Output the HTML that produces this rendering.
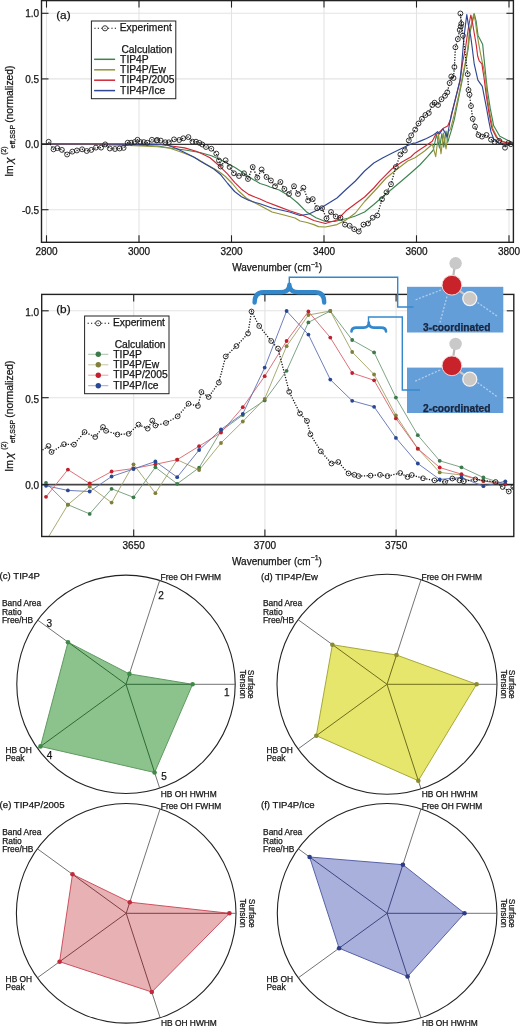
<!DOCTYPE html><html><head><meta charset="utf-8"><title>Figure</title><style>html,body{margin:0;padding:0;background:#fff;}body{width:520px;height:1026px;overflow:hidden;}svg{display:block;}text{stroke:#1a1a1a;stroke-width:0.25px;}</style></head><body><svg width="520" height="1026" viewBox="0 0 520 1026" font-family="'Liberation Sans', Arial, Helvetica, sans-serif">
<rect width="520" height="1026" fill="#fff"/>
<defs><clipPath id="ca"><rect x="41.5" y="0.5" width="472" height="241.5"/></clipPath><clipPath id="cb"><rect x="41.7" y="294.3" width="472.1" height="242.2"/></clipPath></defs>
<line x1="46.5" y1="0.6" x2="46.5" y2="242.3" stroke="#e3e3e3" stroke-width="1.1"/>
<line x1="139.0" y1="0.6" x2="139.0" y2="242.3" stroke="#e3e3e3" stroke-width="1.1"/>
<line x1="231.5" y1="0.6" x2="231.5" y2="242.3" stroke="#e3e3e3" stroke-width="1.1"/>
<line x1="324.0" y1="0.6" x2="324.0" y2="242.3" stroke="#e3e3e3" stroke-width="1.1"/>
<line x1="416.5" y1="0.6" x2="416.5" y2="242.3" stroke="#e3e3e3" stroke-width="1.1"/>
<line x1="509.0" y1="0.6" x2="509.0" y2="242.3" stroke="#e3e3e3" stroke-width="1.1"/>
<line x1="41.5" y1="13.3" x2="513.4" y2="13.3" stroke="#e3e3e3" stroke-width="1.1"/>
<line x1="41.5" y1="78.9" x2="513.4" y2="78.9" stroke="#e3e3e3" stroke-width="1.1"/>
<line x1="41.5" y1="209.7" x2="513.4" y2="209.7" stroke="#e3e3e3" stroke-width="1.1"/>
<line x1="41.5" y1="144.4" x2="513.4" y2="144.4" stroke="#333" stroke-width="1.1"/>
<g clip-path="url(#ca)" fill="none" stroke-width="1.15" stroke-linejoin="round">
<polyline points="41.5,144.0 100.0,144.3 128.8,145.0 157.7,146.0 173.0,148.5 185.0,150.0 200.0,152.5 211.5,155.8 223.0,161.0 234.6,167.3 246.2,174.8 253.1,179.4 260.0,183.5 266.5,185.5 270.0,187.0 279.2,190.0 288.5,195.4 297.7,203.0 307.0,212.3 316.0,217.7 325.4,221.5 334.6,221.5 343.8,219.2 350.0,217.7 355.4,216.0 364.6,212.0 373.8,204.5 383.0,196.5 390.8,190.0 401.5,181.0 410.8,173.0 419.8,165.0 427.5,156.7 433.3,150.0 436.5,134.5 439.5,148.0 441.9,133.7 443.8,147.1 446.0,131.0 447.7,142.3 451.5,129.8 454.4,119.2 455.2,114.8 459.3,94.6 462.2,80.2 466.2,60.0 468.2,48.5 469.8,33.0 474.3,13.8 476.2,21.5 478.0,35.4 480.8,40.8 482.7,44.6 483.8,56.2 485.0,67.7 486.2,79.2 487.5,90.7 490.2,108.2 493.7,125.8 499.8,136.3 508.6,140.7 513.0,143.8" stroke="#3d8450"/>
<polyline points="41.5,144.0 100.0,144.5 128.8,145.4 157.7,146.7 170.0,148.3 182.3,152.5 190.0,155.5 197.0,158.8 204.0,163.0 211.5,167.3 218.5,171.3 225.4,176.5 232.3,183.5 238.1,190.5 246.2,198.0 253.1,202.0 260.0,205.4 272.0,212.0 284.0,215.0 295.0,218.0 300.0,221.0 307.0,222.5 313.8,224.6 318.4,226.6 325.4,227.0 337.0,224.6 346.0,220.0 355.4,213.0 364.6,201.5 375.4,190.0 386.2,178.0 395.4,170.5 407.7,161.0 415.0,157.7 424.6,151.0 432.3,144.2 435.7,156.7 438.5,134.0 441.0,153.8 443.5,133.0 446.0,149.0 448.5,131.5 450.6,128.8 454.2,114.8 458.8,94.6 461.7,80.2 465.8,60.0 467.7,48.5 469.2,33.0 473.8,13.8 475.4,21.5 476.9,33.0 478.5,42.3 480.4,53.0 482.3,62.3 483.6,68.0 485.4,77.5 487.1,95.1 489.7,112.6 492.8,128.4 498.0,139.0 506.8,143.3 513.0,144.8" stroke="#93933a"/>
<polyline points="41.5,144.0 150.0,144.0 160.0,144.3 173.0,146.2 184.6,147.9 196.2,151.3 203.0,154.2 210.0,157.8 213.8,161.0 220.8,167.3 227.7,174.2 234.6,182.3 241.5,189.2 248.5,194.4 255.4,197.3 260.0,199.0 266.5,202.0 278.0,206.4 289.6,210.8 301.0,214.5 313.8,220.5 325.4,223.5 337.0,220.0 346.0,210.8 355.4,203.8 364.6,197.0 373.8,188.0 380.0,180.8 386.2,174.6 392.3,168.5 401.5,162.3 410.8,157.0 415.0,152.9 420.8,149.0 426.5,145.2 432.3,141.3 435.7,134.6 438.5,133.0 443.8,127.9 447.7,126.0 450.6,119.2 452.0,113.0 456.5,94.6 460.2,80.2 462.5,63.0 465.4,48.5 467.3,35.4 468.8,25.4 470.8,15.0 472.3,21.5 474.2,33.0 476.2,44.6 477.7,56.2 479.2,60.8 481.9,63.8 483.0,71.5 484.0,77.5 486.2,95.1 488.9,112.6 491.9,128.4 496.3,137.2 501.6,141.6 511.2,143.3 513.0,144.3" stroke="#cf2838"/>
<polyline points="41.5,144.0 100.0,144.0 150.0,144.3 167.3,145.0 176.5,148.5 184.6,152.5 193.8,157.1 200.0,161.0 206.9,165.0 213.8,169.0 220.8,174.8 227.7,183.5 234.6,191.5 241.5,196.7 248.5,200.2 255.4,202.5 260.0,203.7 272.0,208.0 289.6,212.0 300.0,215.5 309.0,214.0 318.5,209.6 327.7,203.8 337.0,198.0 346.0,189.5 355.4,181.0 364.6,171.0 373.8,163.0 383.0,157.7 392.3,153.0 401.5,148.5 407.7,145.4 413.8,143.0 415.0,143.3 420.8,140.9 426.5,138.5 432.3,135.6 435.7,133.2 437.6,131.7 439.5,134.0 442.9,128.8 447.2,137.0 449.5,124.0 451.3,114.8 456.5,94.6 460.0,80.2 461.8,63.8 463.0,48.5 464.2,35.4 465.4,25.4 466.8,14.6 468.5,25.4 470.8,36.9 472.3,48.5 474.2,63.8 477.9,80.2 482.3,86.3 484.0,95.1 486.7,109.1 488.9,121.4 491.0,131.9 493.7,139.0 499.0,143.3 513.0,144.5" stroke="#304894"/>
</g>
<g clip-path="url(#ca)"><polyline points="48.6,141.8 53.5,149.3 57.3,148.1 61.9,149.9 67.1,154.5 72.3,151.6 76.9,150.5 82.1,149.3 86.7,151.0 91.3,149.9 95.9,147.6 101.1,147.6 105.2,144.4 109.8,148.5 115.0,149.0 119.6,148.5 123.6,147.9 127.7,142.7 131.1,142.7 134.6,142.1 137.5,139.8 140.4,142.1 143.8,142.1 147.3,142.7 151.9,139.8 156.5,140.4 157.3,140.0 160.8,140.6 165.4,142.3 168.8,142.3 174.0,139.4 179.2,140.0 183.3,138.3 188.4,137.1 192.5,141.7 196.0,141.7 199.4,142.9 202.3,144.5 206.0,147.0 211.3,148.7 216.3,153.6 219.0,160.5 220.6,166.5 225.6,160.3 229.6,167.0 234.0,173.3 239.0,176.0 244.0,173.3 248.0,179.0 252.7,167.0 257.3,177.6 261.6,169.5 266.5,177.0 270.9,180.5 275.0,186.2 280.4,182.0 284.4,189.0 289.0,194.0 294.0,186.2 298.0,194.0 303.4,187.7 308.2,200.5 312.7,199.1 317.2,208.2 322.0,208.2 326.5,218.4 331.0,212.0 335.8,216.5 340.4,217.7 345.0,224.6 349.6,225.8 354.2,229.2 358.8,231.5 363.5,224.6 368.0,223.5 372.7,217.7 377.3,215.4 382.0,199.2 386.5,192.3 391.0,184.2 395.8,167.0 400.4,154.5 404.8,150.5 408.8,140.5 411.2,135.4 415.2,129.6 418.5,123.5 422.0,118.8 425.4,115.0 428.8,113.0 432.3,105.0 434.6,102.7 438.0,105.0 441.5,99.2 445.0,95.8 447.3,92.3 449.6,83.0 451.3,76.5 453.5,78.0 454.4,67.0 455.4,47.3 457.8,39.1 459.7,30.0 460.7,26.6 461.3,23.8 460.4,13.5 462.9,35.6 467.7,74.2 468.5,90.0 469.5,94.6 471.0,106.0 472.7,118.8 475.0,126.5 478.5,135.0 482.0,136.6 486.5,135.0 491.0,139.6 494.6,142.0 499.2,140.8 505.0,147.7 508.5,143.0 510.8,144.2" fill="none" stroke="#111" stroke-width="1.3" stroke-dasharray="1.2 1.5"/>
<circle cx="48.6" cy="141.8" r="2.45" fill="none" stroke="#222" stroke-width="0.9"/>
<circle cx="53.5" cy="149.3" r="2.45" fill="none" stroke="#222" stroke-width="0.9"/>
<circle cx="57.3" cy="148.1" r="2.45" fill="none" stroke="#222" stroke-width="0.9"/>
<circle cx="61.9" cy="149.9" r="2.45" fill="none" stroke="#222" stroke-width="0.9"/>
<circle cx="67.1" cy="154.5" r="2.45" fill="none" stroke="#222" stroke-width="0.9"/>
<circle cx="72.3" cy="151.6" r="2.45" fill="none" stroke="#222" stroke-width="0.9"/>
<circle cx="76.9" cy="150.5" r="2.45" fill="none" stroke="#222" stroke-width="0.9"/>
<circle cx="82.1" cy="149.3" r="2.45" fill="none" stroke="#222" stroke-width="0.9"/>
<circle cx="86.7" cy="151.0" r="2.45" fill="none" stroke="#222" stroke-width="0.9"/>
<circle cx="91.3" cy="149.9" r="2.45" fill="none" stroke="#222" stroke-width="0.9"/>
<circle cx="95.9" cy="147.6" r="2.45" fill="none" stroke="#222" stroke-width="0.9"/>
<circle cx="101.1" cy="147.6" r="2.45" fill="none" stroke="#222" stroke-width="0.9"/>
<circle cx="105.2" cy="144.4" r="2.45" fill="none" stroke="#222" stroke-width="0.9"/>
<circle cx="109.8" cy="148.5" r="2.45" fill="none" stroke="#222" stroke-width="0.9"/>
<circle cx="115.0" cy="149.0" r="2.45" fill="none" stroke="#222" stroke-width="0.9"/>
<circle cx="119.6" cy="148.5" r="2.45" fill="none" stroke="#222" stroke-width="0.9"/>
<circle cx="123.6" cy="147.9" r="2.45" fill="none" stroke="#222" stroke-width="0.9"/>
<circle cx="127.7" cy="142.7" r="2.45" fill="none" stroke="#222" stroke-width="0.9"/>
<circle cx="131.1" cy="142.7" r="2.45" fill="none" stroke="#222" stroke-width="0.9"/>
<circle cx="134.6" cy="142.1" r="2.45" fill="none" stroke="#222" stroke-width="0.9"/>
<circle cx="137.5" cy="139.8" r="2.45" fill="none" stroke="#222" stroke-width="0.9"/>
<circle cx="140.4" cy="142.1" r="2.45" fill="none" stroke="#222" stroke-width="0.9"/>
<circle cx="143.8" cy="142.1" r="2.45" fill="none" stroke="#222" stroke-width="0.9"/>
<circle cx="147.3" cy="142.7" r="2.45" fill="none" stroke="#222" stroke-width="0.9"/>
<circle cx="151.9" cy="139.8" r="2.45" fill="none" stroke="#222" stroke-width="0.9"/>
<circle cx="156.5" cy="140.4" r="2.45" fill="none" stroke="#222" stroke-width="0.9"/>
<circle cx="157.3" cy="140.0" r="2.45" fill="none" stroke="#222" stroke-width="0.9"/>
<circle cx="160.8" cy="140.6" r="2.45" fill="none" stroke="#222" stroke-width="0.9"/>
<circle cx="165.4" cy="142.3" r="2.45" fill="none" stroke="#222" stroke-width="0.9"/>
<circle cx="168.8" cy="142.3" r="2.45" fill="none" stroke="#222" stroke-width="0.9"/>
<circle cx="174.0" cy="139.4" r="2.45" fill="none" stroke="#222" stroke-width="0.9"/>
<circle cx="179.2" cy="140.0" r="2.45" fill="none" stroke="#222" stroke-width="0.9"/>
<circle cx="183.3" cy="138.3" r="2.45" fill="none" stroke="#222" stroke-width="0.9"/>
<circle cx="188.4" cy="137.1" r="2.45" fill="none" stroke="#222" stroke-width="0.9"/>
<circle cx="192.5" cy="141.7" r="2.45" fill="none" stroke="#222" stroke-width="0.9"/>
<circle cx="196.0" cy="141.7" r="2.45" fill="none" stroke="#222" stroke-width="0.9"/>
<circle cx="199.4" cy="142.9" r="2.45" fill="none" stroke="#222" stroke-width="0.9"/>
<circle cx="202.3" cy="144.5" r="2.45" fill="none" stroke="#222" stroke-width="0.9"/>
<circle cx="206.0" cy="147.0" r="2.45" fill="none" stroke="#222" stroke-width="0.9"/>
<circle cx="211.3" cy="148.7" r="2.45" fill="none" stroke="#222" stroke-width="0.9"/>
<circle cx="216.3" cy="153.6" r="2.45" fill="none" stroke="#222" stroke-width="0.9"/>
<circle cx="219.0" cy="160.5" r="2.45" fill="none" stroke="#222" stroke-width="0.9"/>
<circle cx="220.6" cy="166.5" r="2.45" fill="none" stroke="#222" stroke-width="0.9"/>
<circle cx="225.6" cy="160.3" r="2.45" fill="none" stroke="#222" stroke-width="0.9"/>
<circle cx="229.6" cy="167.0" r="2.45" fill="none" stroke="#222" stroke-width="0.9"/>
<circle cx="234.0" cy="173.3" r="2.45" fill="none" stroke="#222" stroke-width="0.9"/>
<circle cx="239.0" cy="176.0" r="2.45" fill="none" stroke="#222" stroke-width="0.9"/>
<circle cx="244.0" cy="173.3" r="2.45" fill="none" stroke="#222" stroke-width="0.9"/>
<circle cx="248.0" cy="179.0" r="2.45" fill="none" stroke="#222" stroke-width="0.9"/>
<circle cx="252.7" cy="167.0" r="2.45" fill="none" stroke="#222" stroke-width="0.9"/>
<circle cx="257.3" cy="177.6" r="2.45" fill="none" stroke="#222" stroke-width="0.9"/>
<circle cx="261.6" cy="169.5" r="2.45" fill="none" stroke="#222" stroke-width="0.9"/>
<circle cx="266.5" cy="177.0" r="2.45" fill="none" stroke="#222" stroke-width="0.9"/>
<circle cx="270.9" cy="180.5" r="2.45" fill="none" stroke="#222" stroke-width="0.9"/>
<circle cx="275.0" cy="186.2" r="2.45" fill="none" stroke="#222" stroke-width="0.9"/>
<circle cx="280.4" cy="182.0" r="2.45" fill="none" stroke="#222" stroke-width="0.9"/>
<circle cx="284.4" cy="189.0" r="2.45" fill="none" stroke="#222" stroke-width="0.9"/>
<circle cx="289.0" cy="194.0" r="2.45" fill="none" stroke="#222" stroke-width="0.9"/>
<circle cx="294.0" cy="186.2" r="2.45" fill="none" stroke="#222" stroke-width="0.9"/>
<circle cx="298.0" cy="194.0" r="2.45" fill="none" stroke="#222" stroke-width="0.9"/>
<circle cx="303.4" cy="187.7" r="2.45" fill="none" stroke="#222" stroke-width="0.9"/>
<circle cx="308.2" cy="200.5" r="2.45" fill="none" stroke="#222" stroke-width="0.9"/>
<circle cx="312.7" cy="199.1" r="2.45" fill="none" stroke="#222" stroke-width="0.9"/>
<circle cx="317.2" cy="208.2" r="2.45" fill="none" stroke="#222" stroke-width="0.9"/>
<circle cx="322.0" cy="208.2" r="2.45" fill="none" stroke="#222" stroke-width="0.9"/>
<circle cx="326.5" cy="218.4" r="2.45" fill="none" stroke="#222" stroke-width="0.9"/>
<circle cx="331.0" cy="212.0" r="2.45" fill="none" stroke="#222" stroke-width="0.9"/>
<circle cx="335.8" cy="216.5" r="2.45" fill="none" stroke="#222" stroke-width="0.9"/>
<circle cx="340.4" cy="217.7" r="2.45" fill="none" stroke="#222" stroke-width="0.9"/>
<circle cx="345.0" cy="224.6" r="2.45" fill="none" stroke="#222" stroke-width="0.9"/>
<circle cx="349.6" cy="225.8" r="2.45" fill="none" stroke="#222" stroke-width="0.9"/>
<circle cx="354.2" cy="229.2" r="2.45" fill="none" stroke="#222" stroke-width="0.9"/>
<circle cx="358.8" cy="231.5" r="2.45" fill="none" stroke="#222" stroke-width="0.9"/>
<circle cx="363.5" cy="224.6" r="2.45" fill="none" stroke="#222" stroke-width="0.9"/>
<circle cx="368.0" cy="223.5" r="2.45" fill="none" stroke="#222" stroke-width="0.9"/>
<circle cx="372.7" cy="217.7" r="2.45" fill="none" stroke="#222" stroke-width="0.9"/>
<circle cx="377.3" cy="215.4" r="2.45" fill="none" stroke="#222" stroke-width="0.9"/>
<circle cx="382.0" cy="199.2" r="2.45" fill="none" stroke="#222" stroke-width="0.9"/>
<circle cx="386.5" cy="192.3" r="2.45" fill="none" stroke="#222" stroke-width="0.9"/>
<circle cx="391.0" cy="184.2" r="2.45" fill="none" stroke="#222" stroke-width="0.9"/>
<circle cx="395.8" cy="167.0" r="2.45" fill="none" stroke="#222" stroke-width="0.9"/>
<circle cx="400.4" cy="154.5" r="2.45" fill="none" stroke="#222" stroke-width="0.9"/>
<circle cx="404.8" cy="150.5" r="2.45" fill="none" stroke="#222" stroke-width="0.9"/>
<circle cx="408.8" cy="140.5" r="2.45" fill="none" stroke="#222" stroke-width="0.9"/>
<circle cx="411.2" cy="135.4" r="2.45" fill="none" stroke="#222" stroke-width="0.9"/>
<circle cx="415.2" cy="129.6" r="2.45" fill="none" stroke="#222" stroke-width="0.9"/>
<circle cx="418.5" cy="123.5" r="2.45" fill="none" stroke="#222" stroke-width="0.9"/>
<circle cx="422.0" cy="118.8" r="2.45" fill="none" stroke="#222" stroke-width="0.9"/>
<circle cx="425.4" cy="115.0" r="2.45" fill="none" stroke="#222" stroke-width="0.9"/>
<circle cx="428.8" cy="113.0" r="2.45" fill="none" stroke="#222" stroke-width="0.9"/>
<circle cx="432.3" cy="105.0" r="2.45" fill="none" stroke="#222" stroke-width="0.9"/>
<circle cx="434.6" cy="102.7" r="2.45" fill="none" stroke="#222" stroke-width="0.9"/>
<circle cx="438.0" cy="105.0" r="2.45" fill="none" stroke="#222" stroke-width="0.9"/>
<circle cx="441.5" cy="99.2" r="2.45" fill="none" stroke="#222" stroke-width="0.9"/>
<circle cx="445.0" cy="95.8" r="2.45" fill="none" stroke="#222" stroke-width="0.9"/>
<circle cx="447.3" cy="92.3" r="2.45" fill="none" stroke="#222" stroke-width="0.9"/>
<circle cx="449.6" cy="83.0" r="2.45" fill="none" stroke="#222" stroke-width="0.9"/>
<circle cx="451.3" cy="76.5" r="2.45" fill="none" stroke="#222" stroke-width="0.9"/>
<circle cx="453.5" cy="78.0" r="2.45" fill="none" stroke="#222" stroke-width="0.9"/>
<circle cx="454.4" cy="67.0" r="2.45" fill="none" stroke="#222" stroke-width="0.9"/>
<circle cx="455.4" cy="47.3" r="2.45" fill="none" stroke="#222" stroke-width="0.9"/>
<circle cx="457.8" cy="39.1" r="2.45" fill="none" stroke="#222" stroke-width="0.9"/>
<circle cx="459.7" cy="30.0" r="2.45" fill="none" stroke="#222" stroke-width="0.9"/>
<circle cx="460.7" cy="26.6" r="2.45" fill="none" stroke="#222" stroke-width="0.9"/>
<circle cx="461.3" cy="23.8" r="2.45" fill="none" stroke="#222" stroke-width="0.9"/>
<circle cx="460.4" cy="13.5" r="2.45" fill="none" stroke="#222" stroke-width="0.9"/>
<circle cx="462.9" cy="35.6" r="2.45" fill="none" stroke="#222" stroke-width="0.9"/>
<circle cx="467.7" cy="74.2" r="2.45" fill="none" stroke="#222" stroke-width="0.9"/>
<circle cx="468.5" cy="90.0" r="2.45" fill="none" stroke="#222" stroke-width="0.9"/>
<circle cx="469.5" cy="94.6" r="2.45" fill="none" stroke="#222" stroke-width="0.9"/>
<circle cx="471.0" cy="106.0" r="2.45" fill="none" stroke="#222" stroke-width="0.9"/>
<circle cx="472.7" cy="118.8" r="2.45" fill="none" stroke="#222" stroke-width="0.9"/>
<circle cx="475.0" cy="126.5" r="2.45" fill="none" stroke="#222" stroke-width="0.9"/>
<circle cx="478.5" cy="135.0" r="2.45" fill="none" stroke="#222" stroke-width="0.9"/>
<circle cx="482.0" cy="136.6" r="2.45" fill="none" stroke="#222" stroke-width="0.9"/>
<circle cx="486.5" cy="135.0" r="2.45" fill="none" stroke="#222" stroke-width="0.9"/>
<circle cx="491.0" cy="139.6" r="2.45" fill="none" stroke="#222" stroke-width="0.9"/>
<circle cx="494.6" cy="142.0" r="2.45" fill="none" stroke="#222" stroke-width="0.9"/>
<circle cx="499.2" cy="140.8" r="2.45" fill="none" stroke="#222" stroke-width="0.9"/>
<circle cx="505.0" cy="147.7" r="2.45" fill="none" stroke="#222" stroke-width="0.9"/>
<circle cx="508.5" cy="143.0" r="2.45" fill="none" stroke="#222" stroke-width="0.9"/>
<circle cx="510.8" cy="144.2" r="2.45" fill="none" stroke="#222" stroke-width="0.9"/>
</g>
<rect x="41.5" y="0.6" width="471.9" height="241.7" fill="none" stroke="#222" stroke-width="1.4"/>
<line x1="46.5" y1="242.3" x2="46.5" y2="235.3" stroke="#222" stroke-width="1.1"/>
<line x1="46.5" y1="0.6" x2="46.5" y2="7.6" stroke="#222" stroke-width="1.1"/>
<text x="46.5" y="254.8" font-size="10" text-anchor="middle" fill="#111">2800</text>
<line x1="139.0" y1="242.3" x2="139.0" y2="235.3" stroke="#222" stroke-width="1.1"/>
<line x1="139.0" y1="0.6" x2="139.0" y2="7.6" stroke="#222" stroke-width="1.1"/>
<text x="139.0" y="254.8" font-size="10" text-anchor="middle" fill="#111">3000</text>
<line x1="231.5" y1="242.3" x2="231.5" y2="235.3" stroke="#222" stroke-width="1.1"/>
<line x1="231.5" y1="0.6" x2="231.5" y2="7.6" stroke="#222" stroke-width="1.1"/>
<text x="231.5" y="254.8" font-size="10" text-anchor="middle" fill="#111">3200</text>
<line x1="324.0" y1="242.3" x2="324.0" y2="235.3" stroke="#222" stroke-width="1.1"/>
<line x1="324.0" y1="0.6" x2="324.0" y2="7.6" stroke="#222" stroke-width="1.1"/>
<text x="324.0" y="254.8" font-size="10" text-anchor="middle" fill="#111">3400</text>
<line x1="416.5" y1="242.3" x2="416.5" y2="235.3" stroke="#222" stroke-width="1.1"/>
<line x1="416.5" y1="0.6" x2="416.5" y2="7.6" stroke="#222" stroke-width="1.1"/>
<text x="416.5" y="254.8" font-size="10" text-anchor="middle" fill="#111">3600</text>
<line x1="509.0" y1="242.3" x2="509.0" y2="235.3" stroke="#222" stroke-width="1.1"/>
<line x1="509.0" y1="0.6" x2="509.0" y2="7.6" stroke="#222" stroke-width="1.1"/>
<text x="509.0" y="254.8" font-size="10" text-anchor="middle" fill="#111">3800</text>
<line x1="41.5" y1="13.3" x2="48.5" y2="13.3" stroke="#222" stroke-width="1.1"/>
<line x1="513.4" y1="13.3" x2="506.4" y2="13.3" stroke="#222" stroke-width="1.1"/>
<text x="39.2" y="17.3" font-size="10" text-anchor="end" fill="#111">1.0</text>
<line x1="41.5" y1="78.9" x2="48.5" y2="78.9" stroke="#222" stroke-width="1.1"/>
<line x1="513.4" y1="78.9" x2="506.4" y2="78.9" stroke="#222" stroke-width="1.1"/>
<text x="39.2" y="82.9" font-size="10" text-anchor="end" fill="#111">0.5</text>
<line x1="41.5" y1="144.4" x2="48.5" y2="144.4" stroke="#222" stroke-width="1.1"/>
<line x1="513.4" y1="144.4" x2="506.4" y2="144.4" stroke="#222" stroke-width="1.1"/>
<text x="39.2" y="148.4" font-size="10" text-anchor="end" fill="#111">0.0</text>
<line x1="41.5" y1="209.7" x2="48.5" y2="209.7" stroke="#222" stroke-width="1.1"/>
<line x1="513.4" y1="209.7" x2="506.4" y2="209.7" stroke="#222" stroke-width="1.1"/>
<text x="39.2" y="213.7" font-size="10" text-anchor="end" fill="#111">-0.5</text>
<text x="56.2" y="18.6" font-size="11.8" fill="#111">(a)</text>
<text x="232.2" y="271.2" font-size="10" fill="#111">Wavenumber (cm<tspan font-size="7" dy="-4.6">−1</tspan><tspan dy="4.6">)</tspan></text>
<g transform="translate(0,179.4) rotate(-90)" fill="#111"><text x="2.6" y="13" font-size="10.4">Im</text><text x="15.6" y="13" font-size="11.5" font-style="italic">χ</text><text x="24.6" y="5.6" font-size="6.8">(2)</text><text x="31.0" y="15.4" font-size="7.7" textLength="23.6" lengthAdjust="spacingAndGlyphs">eff,SSP</text><text x="56.6" y="13" font-size="10.3">(normalized)</text></g>
<rect x="91.4" y="21" width="84.4" height="77.7" fill="#fff" stroke="#222" stroke-width="1"/>
<line x1="94.4" y1="28.3" x2="116.4" y2="28.3" stroke="#111" stroke-width="1.1" stroke-dasharray="1.2 2.2"/>
<circle cx="105.0" cy="28.3" r="2.6" fill="#fff" stroke="#222" stroke-width="0.9"/>
<circle cx="105.0" cy="28.3" r="0.6" fill="#222"/>
<text x="119.7" y="31.4" font-size="10.3" fill="#111">Experiment</text>
<text x="172.4" y="52.5" font-size="10.3" text-anchor="end" fill="#111">Calculation</text>
<line x1="94.10000000000001" y1="59.3" x2="115.10000000000001" y2="59.3" stroke="#3d8450" stroke-width="1.5"/>
<text x="120.10000000000001" y="62.5" font-size="10.3" fill="#111">TIP4P</text>
<line x1="94.10000000000001" y1="69.8" x2="115.10000000000001" y2="69.8" stroke="#93933a" stroke-width="1.5"/>
<text x="120.10000000000001" y="73.0" font-size="10.3" fill="#111">TIP4P/Ew</text>
<line x1="94.10000000000001" y1="80.2" x2="115.10000000000001" y2="80.2" stroke="#cf2838" stroke-width="1.5"/>
<text x="120.10000000000001" y="83.4" font-size="10.3" fill="#111">TIP4P/2005</text>
<line x1="94.10000000000001" y1="90.6" x2="115.10000000000001" y2="90.6" stroke="#304894" stroke-width="1.5"/>
<text x="120.10000000000001" y="93.8" font-size="10.3" fill="#111">TIP4P/Ice</text>
<line x1="133.7" y1="294.4" x2="133.7" y2="536.5" stroke="#e3e3e3" stroke-width="1.1"/>
<line x1="264.9" y1="294.4" x2="264.9" y2="536.5" stroke="#e3e3e3" stroke-width="1.1"/>
<line x1="396.1" y1="294.4" x2="396.1" y2="536.5" stroke="#e3e3e3" stroke-width="1.1"/>
<line x1="41.7" y1="310.8" x2="513.8" y2="310.8" stroke="#e3e3e3" stroke-width="1.1"/>
<line x1="41.7" y1="397.7" x2="513.8" y2="397.7" stroke="#e3e3e3" stroke-width="1.1"/>
<line x1="41.7" y1="484.6" x2="513.8" y2="484.6" stroke="#444" stroke-width="1.6"/>
<g clip-path="url(#cb)">
<polyline points="46.0,483.0 67.9,504.7 89.7,513.9 111.6,488.8 133.5,497.3 155.4,467.3 177.2,483.8 199.1,467.7 221.0,431.0 242.8,415.0 264.7,400.4 286.6,370.8 308.4,322.4 330.3,311.0 352.2,340.0 374.1,352.4 395.9,397.6 417.8,435.2 439.7,460.8 461.5,467.3 483.4,477.5 505.3,484.0" fill="none" stroke="#6f9a78" stroke-width="0.9"/>
<polyline points="46.0,541.0 67.9,504.7 89.7,486.5 111.6,502.6 133.5,464.3 155.4,493.2 177.2,459.7 199.1,470.0 221.0,443.0 242.8,421.5 264.7,398.8 286.6,346.2 308.4,315.0 330.3,311.0 352.2,352.0 374.1,374.5 395.9,415.4 417.8,448.7 439.7,472.4 461.5,475.0 483.4,481.0 505.3,484.0" fill="none" stroke="#a0a066" stroke-width="0.9"/>
<polyline points="46.0,496.8 67.9,469.6 89.7,483.5 111.6,471.5 133.5,468.5 155.4,464.3 177.2,459.7 199.1,446.2 221.0,432.6 242.8,407.2 264.7,376.2 286.6,341.0 308.4,311.5 330.3,337.6 352.2,373.0 374.1,380.3 395.9,418.4 417.8,448.7 439.7,467.5 461.5,474.2 483.4,481.0 505.3,483.8" fill="none" stroke="#d8626a" stroke-width="0.9"/>
<polyline points="46.0,485.8 67.9,490.4 89.7,491.5 111.6,476.5 133.5,469.0 155.4,461.5 177.2,477.2 199.1,450.0 221.0,429.5 242.8,413.8 264.7,367.6 286.6,311.0 308.4,334.6 330.3,379.6 352.2,400.8 374.1,406.8 395.9,437.9 417.8,463.5 439.7,479.4 461.5,477.5 483.4,486.2 505.3,481.3" fill="none" stroke="#5c70b4" stroke-width="0.9"/>
<circle cx="46.0" cy="483.0" r="1.9" fill="#3c7a4a"/>
<circle cx="67.9" cy="504.7" r="1.9" fill="#3c7a4a"/>
<circle cx="89.7" cy="513.9" r="1.9" fill="#3c7a4a"/>
<circle cx="111.6" cy="488.8" r="1.9" fill="#3c7a4a"/>
<circle cx="133.5" cy="497.3" r="1.9" fill="#3c7a4a"/>
<circle cx="155.4" cy="467.3" r="1.9" fill="#3c7a4a"/>
<circle cx="177.2" cy="483.8" r="1.9" fill="#3c7a4a"/>
<circle cx="199.1" cy="467.7" r="1.9" fill="#3c7a4a"/>
<circle cx="221.0" cy="431.0" r="1.9" fill="#3c7a4a"/>
<circle cx="242.8" cy="415.0" r="1.9" fill="#3c7a4a"/>
<circle cx="264.7" cy="400.4" r="1.9" fill="#3c7a4a"/>
<circle cx="286.6" cy="370.8" r="1.9" fill="#3c7a4a"/>
<circle cx="308.4" cy="322.4" r="1.9" fill="#3c7a4a"/>
<circle cx="330.3" cy="311.0" r="1.9" fill="#3c7a4a"/>
<circle cx="352.2" cy="340.0" r="1.9" fill="#3c7a4a"/>
<circle cx="374.1" cy="352.4" r="1.9" fill="#3c7a4a"/>
<circle cx="395.9" cy="397.6" r="1.9" fill="#3c7a4a"/>
<circle cx="417.8" cy="435.2" r="1.9" fill="#3c7a4a"/>
<circle cx="439.7" cy="460.8" r="1.9" fill="#3c7a4a"/>
<circle cx="461.5" cy="467.3" r="1.9" fill="#3c7a4a"/>
<circle cx="483.4" cy="477.5" r="1.9" fill="#3c7a4a"/>
<circle cx="505.3" cy="484.0" r="1.9" fill="#3c7a4a"/>
<circle cx="46.0" cy="541.0" r="1.9" fill="#80803a"/>
<circle cx="67.9" cy="504.7" r="1.9" fill="#80803a"/>
<circle cx="89.7" cy="486.5" r="1.9" fill="#80803a"/>
<circle cx="111.6" cy="502.6" r="1.9" fill="#80803a"/>
<circle cx="133.5" cy="464.3" r="1.9" fill="#80803a"/>
<circle cx="155.4" cy="493.2" r="1.9" fill="#80803a"/>
<circle cx="177.2" cy="459.7" r="1.9" fill="#80803a"/>
<circle cx="199.1" cy="470.0" r="1.9" fill="#80803a"/>
<circle cx="221.0" cy="443.0" r="1.9" fill="#80803a"/>
<circle cx="242.8" cy="421.5" r="1.9" fill="#80803a"/>
<circle cx="264.7" cy="398.8" r="1.9" fill="#80803a"/>
<circle cx="286.6" cy="346.2" r="1.9" fill="#80803a"/>
<circle cx="308.4" cy="315.0" r="1.9" fill="#80803a"/>
<circle cx="330.3" cy="311.0" r="1.9" fill="#80803a"/>
<circle cx="352.2" cy="352.0" r="1.9" fill="#80803a"/>
<circle cx="374.1" cy="374.5" r="1.9" fill="#80803a"/>
<circle cx="395.9" cy="415.4" r="1.9" fill="#80803a"/>
<circle cx="417.8" cy="448.7" r="1.9" fill="#80803a"/>
<circle cx="439.7" cy="472.4" r="1.9" fill="#80803a"/>
<circle cx="461.5" cy="475.0" r="1.9" fill="#80803a"/>
<circle cx="483.4" cy="481.0" r="1.9" fill="#80803a"/>
<circle cx="505.3" cy="484.0" r="1.9" fill="#80803a"/>
<circle cx="46.0" cy="496.8" r="1.9" fill="#c0202e"/>
<circle cx="67.9" cy="469.6" r="1.9" fill="#c0202e"/>
<circle cx="89.7" cy="483.5" r="1.9" fill="#c0202e"/>
<circle cx="111.6" cy="471.5" r="1.9" fill="#c0202e"/>
<circle cx="133.5" cy="468.5" r="1.9" fill="#c0202e"/>
<circle cx="155.4" cy="464.3" r="1.9" fill="#c0202e"/>
<circle cx="177.2" cy="459.7" r="1.9" fill="#c0202e"/>
<circle cx="199.1" cy="446.2" r="1.9" fill="#c0202e"/>
<circle cx="221.0" cy="432.6" r="1.9" fill="#c0202e"/>
<circle cx="242.8" cy="407.2" r="1.9" fill="#c0202e"/>
<circle cx="264.7" cy="376.2" r="1.9" fill="#c0202e"/>
<circle cx="286.6" cy="341.0" r="1.9" fill="#c0202e"/>
<circle cx="308.4" cy="311.5" r="1.9" fill="#c0202e"/>
<circle cx="330.3" cy="337.6" r="1.9" fill="#c0202e"/>
<circle cx="352.2" cy="373.0" r="1.9" fill="#c0202e"/>
<circle cx="374.1" cy="380.3" r="1.9" fill="#c0202e"/>
<circle cx="395.9" cy="418.4" r="1.9" fill="#c0202e"/>
<circle cx="417.8" cy="448.7" r="1.9" fill="#c0202e"/>
<circle cx="439.7" cy="467.5" r="1.9" fill="#c0202e"/>
<circle cx="461.5" cy="474.2" r="1.9" fill="#c0202e"/>
<circle cx="483.4" cy="481.0" r="1.9" fill="#c0202e"/>
<circle cx="505.3" cy="483.8" r="1.9" fill="#c0202e"/>
<circle cx="46.0" cy="485.8" r="1.9" fill="#284894"/>
<circle cx="67.9" cy="490.4" r="1.9" fill="#284894"/>
<circle cx="89.7" cy="491.5" r="1.9" fill="#284894"/>
<circle cx="111.6" cy="476.5" r="1.9" fill="#284894"/>
<circle cx="133.5" cy="469.0" r="1.9" fill="#284894"/>
<circle cx="155.4" cy="461.5" r="1.9" fill="#284894"/>
<circle cx="177.2" cy="477.2" r="1.9" fill="#284894"/>
<circle cx="199.1" cy="450.0" r="1.9" fill="#284894"/>
<circle cx="221.0" cy="429.5" r="1.9" fill="#284894"/>
<circle cx="242.8" cy="413.8" r="1.9" fill="#284894"/>
<circle cx="264.7" cy="367.6" r="1.9" fill="#284894"/>
<circle cx="286.6" cy="311.0" r="1.9" fill="#284894"/>
<circle cx="308.4" cy="334.6" r="1.9" fill="#284894"/>
<circle cx="330.3" cy="379.6" r="1.9" fill="#284894"/>
<circle cx="352.2" cy="400.8" r="1.9" fill="#284894"/>
<circle cx="374.1" cy="406.8" r="1.9" fill="#284894"/>
<circle cx="395.9" cy="437.9" r="1.9" fill="#284894"/>
<circle cx="417.8" cy="463.5" r="1.9" fill="#284894"/>
<circle cx="439.7" cy="479.4" r="1.9" fill="#284894"/>
<circle cx="461.5" cy="477.5" r="1.9" fill="#284894"/>
<circle cx="483.4" cy="486.2" r="1.9" fill="#284894"/>
<circle cx="505.3" cy="481.3" r="1.9" fill="#284894"/>
<polyline points="38.0,453.0 48.5,446.0 51.5,452.0 64.0,444.2 74.0,444.6 84.6,432.0 95.2,437.0 103.0,427.0 106.0,430.8 117.5,434.5 128.6,433.8 138.5,424.6 147.7,428.6 152.3,420.6 155.4,425.5 166.0,423.0 177.7,416.3 188.5,403.7 197.9,406.0 201.4,392.0 208.7,397.0 218.8,382.6 225.7,356.5 236.5,346.0 248.0,333.5 251.5,311.5 259.2,326.0 271.2,341.0 278.0,348.5 289.2,391.8 300.0,413.5 307.0,421.0 310.4,434.3 320.8,451.3 331.5,463.5 338.3,462.0 348.5,473.4 354.4,474.8 358.5,476.1 370.6,475.6 380.0,474.8 387.5,476.1 400.2,473.0 407.5,477.0 411.8,475.0 423.0,478.3 434.4,480.4 445.0,482.0 452.3,478.5 459.4,480.4 463.8,481.3 475.4,479.4 495.6,482.0 502.7,487.0 508.8,491.5 513.3,487.0" fill="none" stroke="#111" stroke-width="1.3" stroke-dasharray="1.2 1.5"/>
<circle cx="48.5" cy="446.0" r="2.4" fill="none" stroke="#222" stroke-width="0.9"/>
<circle cx="51.5" cy="452.0" r="2.4" fill="none" stroke="#222" stroke-width="0.9"/>
<circle cx="64.0" cy="444.2" r="2.4" fill="none" stroke="#222" stroke-width="0.9"/>
<circle cx="74.0" cy="444.6" r="2.4" fill="none" stroke="#222" stroke-width="0.9"/>
<circle cx="84.6" cy="432.0" r="2.4" fill="none" stroke="#222" stroke-width="0.9"/>
<circle cx="95.2" cy="437.0" r="2.4" fill="none" stroke="#222" stroke-width="0.9"/>
<circle cx="103.0" cy="427.0" r="2.4" fill="none" stroke="#222" stroke-width="0.9"/>
<circle cx="106.0" cy="430.8" r="2.4" fill="none" stroke="#222" stroke-width="0.9"/>
<circle cx="117.5" cy="434.5" r="2.4" fill="none" stroke="#222" stroke-width="0.9"/>
<circle cx="128.6" cy="433.8" r="2.4" fill="none" stroke="#222" stroke-width="0.9"/>
<circle cx="138.5" cy="424.6" r="2.4" fill="none" stroke="#222" stroke-width="0.9"/>
<circle cx="147.7" cy="428.6" r="2.4" fill="none" stroke="#222" stroke-width="0.9"/>
<circle cx="152.3" cy="420.6" r="2.4" fill="none" stroke="#222" stroke-width="0.9"/>
<circle cx="155.4" cy="425.5" r="2.4" fill="none" stroke="#222" stroke-width="0.9"/>
<circle cx="166.0" cy="423.0" r="2.4" fill="none" stroke="#222" stroke-width="0.9"/>
<circle cx="177.7" cy="416.3" r="2.4" fill="none" stroke="#222" stroke-width="0.9"/>
<circle cx="188.5" cy="403.7" r="2.4" fill="none" stroke="#222" stroke-width="0.9"/>
<circle cx="197.9" cy="406.0" r="2.4" fill="none" stroke="#222" stroke-width="0.9"/>
<circle cx="201.4" cy="392.0" r="2.4" fill="none" stroke="#222" stroke-width="0.9"/>
<circle cx="208.7" cy="397.0" r="2.4" fill="none" stroke="#222" stroke-width="0.9"/>
<circle cx="218.8" cy="382.6" r="2.4" fill="none" stroke="#222" stroke-width="0.9"/>
<circle cx="225.7" cy="356.5" r="2.4" fill="none" stroke="#222" stroke-width="0.9"/>
<circle cx="236.5" cy="346.0" r="2.4" fill="none" stroke="#222" stroke-width="0.9"/>
<circle cx="248.0" cy="333.5" r="2.4" fill="none" stroke="#222" stroke-width="0.9"/>
<circle cx="251.5" cy="311.5" r="2.4" fill="none" stroke="#222" stroke-width="0.9"/>
<circle cx="259.2" cy="326.0" r="2.4" fill="none" stroke="#222" stroke-width="0.9"/>
<circle cx="271.2" cy="341.0" r="2.4" fill="none" stroke="#222" stroke-width="0.9"/>
<circle cx="278.0" cy="348.5" r="2.4" fill="none" stroke="#222" stroke-width="0.9"/>
<circle cx="289.2" cy="391.8" r="2.4" fill="none" stroke="#222" stroke-width="0.9"/>
<circle cx="300.0" cy="413.5" r="2.4" fill="none" stroke="#222" stroke-width="0.9"/>
<circle cx="307.0" cy="421.0" r="2.4" fill="none" stroke="#222" stroke-width="0.9"/>
<circle cx="310.4" cy="434.3" r="2.4" fill="none" stroke="#222" stroke-width="0.9"/>
<circle cx="320.8" cy="451.3" r="2.4" fill="none" stroke="#222" stroke-width="0.9"/>
<circle cx="331.5" cy="463.5" r="2.4" fill="none" stroke="#222" stroke-width="0.9"/>
<circle cx="338.3" cy="462.0" r="2.4" fill="none" stroke="#222" stroke-width="0.9"/>
<circle cx="348.5" cy="473.4" r="2.4" fill="none" stroke="#222" stroke-width="0.9"/>
<circle cx="354.4" cy="474.8" r="2.4" fill="none" stroke="#222" stroke-width="0.9"/>
<circle cx="358.5" cy="476.1" r="2.4" fill="none" stroke="#222" stroke-width="0.9"/>
<circle cx="370.6" cy="475.6" r="2.4" fill="none" stroke="#222" stroke-width="0.9"/>
<circle cx="380.0" cy="474.8" r="2.4" fill="none" stroke="#222" stroke-width="0.9"/>
<circle cx="387.5" cy="476.1" r="2.4" fill="none" stroke="#222" stroke-width="0.9"/>
<circle cx="400.2" cy="473.0" r="2.4" fill="none" stroke="#222" stroke-width="0.9"/>
<circle cx="407.5" cy="477.0" r="2.4" fill="none" stroke="#222" stroke-width="0.9"/>
<circle cx="411.8" cy="475.0" r="2.4" fill="none" stroke="#222" stroke-width="0.9"/>
<circle cx="423.0" cy="478.3" r="2.4" fill="none" stroke="#222" stroke-width="0.9"/>
<circle cx="434.4" cy="480.4" r="2.4" fill="none" stroke="#222" stroke-width="0.9"/>
<circle cx="445.0" cy="482.0" r="2.4" fill="none" stroke="#222" stroke-width="0.9"/>
<circle cx="452.3" cy="478.5" r="2.4" fill="none" stroke="#222" stroke-width="0.9"/>
<circle cx="459.4" cy="480.4" r="2.4" fill="none" stroke="#222" stroke-width="0.9"/>
<circle cx="463.8" cy="481.3" r="2.4" fill="none" stroke="#222" stroke-width="0.9"/>
<circle cx="475.4" cy="479.4" r="2.4" fill="none" stroke="#222" stroke-width="0.9"/>
<circle cx="495.6" cy="482.0" r="2.4" fill="none" stroke="#222" stroke-width="0.9"/>
<circle cx="502.7" cy="487.0" r="2.4" fill="none" stroke="#222" stroke-width="0.9"/>
<circle cx="508.8" cy="491.5" r="2.4" fill="none" stroke="#222" stroke-width="0.9"/>
<circle cx="513.3" cy="487.0" r="2.4" fill="none" stroke="#222" stroke-width="0.9"/>
</g>
<rect x="41.7" y="294.4" width="472.1" height="242.1" fill="none" stroke="#222" stroke-width="1.4"/>
<line x1="133.7" y1="536.5" x2="133.7" y2="529.5" stroke="#222" stroke-width="1.1"/>
<line x1="133.7" y1="294.4" x2="133.7" y2="301.4" stroke="#222" stroke-width="1.1"/>
<text x="133.7" y="549.1" font-size="10" text-anchor="middle" fill="#111">3650</text>
<line x1="264.9" y1="536.5" x2="264.9" y2="529.5" stroke="#222" stroke-width="1.1"/>
<line x1="264.9" y1="294.4" x2="264.9" y2="301.4" stroke="#222" stroke-width="1.1"/>
<text x="264.9" y="549.1" font-size="10" text-anchor="middle" fill="#111">3700</text>
<line x1="396.1" y1="536.5" x2="396.1" y2="529.5" stroke="#222" stroke-width="1.1"/>
<line x1="396.1" y1="294.4" x2="396.1" y2="301.4" stroke="#222" stroke-width="1.1"/>
<text x="396.1" y="549.1" font-size="10" text-anchor="middle" fill="#111">3750</text>
<line x1="41.7" y1="310.8" x2="48.7" y2="310.8" stroke="#222" stroke-width="1.1"/>
<line x1="513.8" y1="310.8" x2="506.79999999999995" y2="310.8" stroke="#222" stroke-width="1.1"/>
<text x="39.2" y="315.6" font-size="10" text-anchor="end" fill="#111">1.0</text>
<line x1="41.7" y1="397.7" x2="48.7" y2="397.7" stroke="#222" stroke-width="1.1"/>
<line x1="513.8" y1="397.7" x2="506.79999999999995" y2="397.7" stroke="#222" stroke-width="1.1"/>
<text x="39.2" y="402.5" font-size="10" text-anchor="end" fill="#111">0.5</text>
<line x1="41.7" y1="484.6" x2="48.7" y2="484.6" stroke="#222" stroke-width="1.1"/>
<line x1="513.8" y1="484.6" x2="506.79999999999995" y2="484.6" stroke="#222" stroke-width="1.1"/>
<text x="39.2" y="489.4" font-size="10" text-anchor="end" fill="#111">0.0</text>
<text x="56.2" y="313.2" font-size="11.8" fill="#111">(b)</text>
<text x="232" y="564.5" font-size="10" fill="#111">Wavenumber (cm<tspan font-size="7" dy="-4.6">−1</tspan><tspan dy="4.6">)</tspan></text>
<g transform="translate(0,474.3) rotate(-90)" fill="#111"><text x="2.6" y="13" font-size="10.4">Im</text><text x="15.6" y="13" font-size="11.5" font-style="italic">χ</text><text x="24.6" y="5.6" font-size="6.8">(2)</text><text x="31.0" y="15.4" font-size="7.7" textLength="23.6" lengthAdjust="spacingAndGlyphs">eff,SSP</text><text x="56.6" y="13" font-size="10.3">(normalized)</text></g>
<rect x="84.6" y="316" width="84.4" height="77.7" fill="#fff" stroke="#222" stroke-width="1"/>
<line x1="87.6" y1="323.3" x2="109.6" y2="323.3" stroke="#111" stroke-width="1.1" stroke-dasharray="1.2 2.2"/>
<circle cx="98.19999999999999" cy="323.3" r="2.6" fill="#fff" stroke="#222" stroke-width="0.9"/>
<circle cx="98.19999999999999" cy="323.3" r="0.6" fill="#222"/>
<text x="112.89999999999999" y="326.4" font-size="10.3" fill="#111">Experiment</text>
<text x="165.6" y="347.5" font-size="10.3" text-anchor="end" fill="#111">Calculation</text>
<line x1="88.19999999999999" y1="354.3" x2="108.3" y2="354.3" stroke="#6f9a78" stroke-opacity="0.6" stroke-width="1"/>
<circle cx="98.3" cy="354.3" r="2.7" fill="#3c7a4a"/>
<text x="113.3" y="357.5" font-size="10.3" fill="#111">TIP4P</text>
<line x1="88.19999999999999" y1="364.8" x2="108.3" y2="364.8" stroke="#a0a066" stroke-opacity="0.6" stroke-width="1"/>
<circle cx="98.3" cy="364.8" r="2.7" fill="#80803a"/>
<text x="113.3" y="367.9" font-size="10.3" fill="#111">TIP4P/Ew</text>
<line x1="88.19999999999999" y1="375.2" x2="108.3" y2="375.2" stroke="#d8626a" stroke-opacity="0.6" stroke-width="1"/>
<circle cx="98.3" cy="375.2" r="2.7" fill="#c0202e"/>
<text x="113.3" y="378.4" font-size="10.3" fill="#111">TIP4P/2005</text>
<line x1="88.19999999999999" y1="385.7" x2="108.3" y2="385.7" stroke="#5c70b4" stroke-opacity="0.6" stroke-width="1"/>
<circle cx="98.3" cy="385.7" r="2.7" fill="#284894"/>
<text x="113.3" y="388.9" font-size="10.3" fill="#111">TIP4P/Ice</text>
<polyline points="289.3,285 289.3,277.3 397.7,277.3 397.7,307 413.5,307" fill="none" stroke="#3388cc" stroke-width="1.4"/>
<polyline points="368.5,323 368.5,317 402.3,317 402.3,390 420,390" fill="none" stroke="#3388cc" stroke-width="1.4"/>
<rect x="407" y="286.8" width="96.3" height="45.7" fill="#649ed8"/>
<rect x="407" y="367.6" width="96.3" height="45.4" fill="#649ed8"/>
<line x1="407" y1="307" x2="413.5" y2="307" stroke="#3388cc" stroke-width="1.4"/>
<line x1="407" y1="390" x2="420" y2="390" stroke="#3388cc" stroke-width="1.4"/>
<line x1="441" y1="290" x2="415" y2="300" stroke="#e4ecf8" stroke-opacity="0.6" stroke-width="1.3" stroke-dasharray="2 1.6"/>
<line x1="447" y1="296.5" x2="440" y2="322.5" stroke="#e4ecf8" stroke-opacity="0.6" stroke-width="1.3" stroke-dasharray="2 1.6"/>
<line x1="477.5" y1="302.5" x2="497.5" y2="316.3" stroke="#e4ecf8" stroke-opacity="0.6" stroke-width="1.3" stroke-dasharray="2 1.6"/>
<line x1="453.4" y1="275.2" x2="454.4" y2="268.2" stroke="#b8bcb8" stroke-width="2.2"/>
<circle cx="455.59999999999997" cy="263.3" r="6.2" fill="#c9c9c9"/>
<line x1="459.9" y1="291.2" x2="464.9" y2="294.7" stroke="#c8c8c8" stroke-width="2.2"/>
<circle cx="451.9" cy="285.2" r="9.9" fill="#c8232b" stroke="#f1d6d6" stroke-width="1"/>
<circle cx="469.79999999999995" cy="298.59999999999997" r="7" fill="#cbc8c6" stroke="#f4f4f4" stroke-width="1.3"/>
<line x1="440" y1="370" x2="415" y2="381.3" stroke="#e4ecf8" stroke-opacity="0.6" stroke-width="1.3" stroke-dasharray="2 1.6"/>
<line x1="477.5" y1="382.5" x2="497.5" y2="397" stroke="#e4ecf8" stroke-opacity="0.6" stroke-width="1.3" stroke-dasharray="2 1.6"/>
<line x1="453.4" y1="355.8" x2="454.4" y2="348.8" stroke="#b8bcb8" stroke-width="2.2"/>
<circle cx="455.59999999999997" cy="343.90000000000003" r="6.2" fill="#c9c9c9"/>
<line x1="459.9" y1="371.8" x2="464.9" y2="375.3" stroke="#c8c8c8" stroke-width="2.2"/>
<circle cx="451.9" cy="365.8" r="9.9" fill="#c8232b" stroke="#f1d6d6" stroke-width="1"/>
<circle cx="469.79999999999995" cy="379.2" r="7" fill="#cbc8c6" stroke="#f4f4f4" stroke-width="1.3"/>
<text x="456.8" y="331" font-size="10.2" font-weight="bold" text-anchor="middle" fill="#15284e">3-coordinated</text>
<text x="456.8" y="411.6" font-size="10.2" font-weight="bold" text-anchor="middle" fill="#15284e">2-coordinated</text>
<path d="M254.6,302.5 Q254.6,292.3 263.6,292.3 L280.4,292.3 Q289.4,292.3 289.4,284.8 Q289.4,292.3 298.4,292.3 L315.2,292.3 Q324.2,292.3 324.2,302.5" fill="none" stroke="#3388cc" stroke-width="4.4" stroke-linecap="round" stroke-linejoin="round"/>
<path d="M351.5,331.5 Q351.5,327.6 356.5,327.6 L363.75,327.6 Q368.75,327.6 368.75,322.5 Q368.75,327.6 373.75,327.6 L381.0,327.6 Q386.0,327.6 386.0,331.5" fill="none" stroke="#3388cc" stroke-width="2.6" stroke-linecap="round" stroke-linejoin="round"/>
<circle cx="126" cy="684.3" r="109.2" fill="none" stroke="#222" stroke-width="1.1"/>
<line x1="126" y1="684.3" x2="235.2" y2="684.3" stroke="#5a5a5a" stroke-width="0.85"/>
<line x1="126" y1="684.3" x2="159.7" y2="580.4" stroke="#5a5a5a" stroke-width="0.85"/>
<line x1="126" y1="684.3" x2="37.7" y2="620.1" stroke="#5a5a5a" stroke-width="0.85"/>
<line x1="126" y1="684.3" x2="37.7" y2="748.5" stroke="#5a5a5a" stroke-width="0.85"/>
<line x1="126" y1="684.3" x2="159.7" y2="788.2" stroke="#5a5a5a" stroke-width="0.85"/>
<clipPath id="rp1"><polygon points="192.6,684.3 129.4,673.9 68.0,642.2 40.5,746.4 154.6,772.5"/></clipPath>
<polygon points="192.6,684.3 129.4,673.9 68.0,642.2 40.5,746.4 154.6,772.5" fill="#8cc28c" stroke="#5f9a62" stroke-width="1"/>
<g clip-path="url(#rp1)">
<line x1="126" y1="684.3" x2="235.2" y2="684.3" stroke="#2f6a36" stroke-width="1"/>
<line x1="126" y1="684.3" x2="159.7" y2="580.4" stroke="#2f6a36" stroke-width="1"/>
<line x1="126" y1="684.3" x2="37.7" y2="620.1" stroke="#2f6a36" stroke-width="1"/>
<line x1="126" y1="684.3" x2="37.7" y2="748.5" stroke="#2f6a36" stroke-width="1"/>
<line x1="126" y1="684.3" x2="159.7" y2="788.2" stroke="#2f6a36" stroke-width="1"/>
</g>
<circle cx="192.6" cy="684.3" r="2.3" fill="#3f8a48"/>
<circle cx="129.4" cy="673.9" r="2.3" fill="#3f8a48"/>
<circle cx="68.0" cy="642.2" r="2.3" fill="#3f8a48"/>
<circle cx="40.5" cy="746.4" r="2.3" fill="#3f8a48"/>
<circle cx="154.6" cy="772.5" r="2.3" fill="#3f8a48"/>
<text x="-0.4" y="579.4" font-size="9.6" fill="#111">(c) TIP4P</text>
<text x="160.6" y="579.6" font-size="8.4" fill="#111">Free OH FWHM</text>
<text transform="translate(248.3,684.3) rotate(90)" font-size="8.4" text-anchor="middle" fill="#111">Surface</text>
<text transform="translate(239.5,684.3) rotate(90)" font-size="8.4" text-anchor="middle" fill="#111">Tension</text>
<text x="2.0" y="606.4" font-size="8.4" fill="#111">Band Area</text>
<text x="2.0" y="614.7" font-size="8.4" fill="#111">Ratio</text>
<text x="2.0" y="623.3" font-size="8.4" fill="#111">Free/HB</text>
<text x="5.4" y="753.2" font-size="8.4" fill="#111">HB OH</text>
<text x="5.4" y="761.2" font-size="8.4" fill="#111">Peak</text>
<text x="160.8" y="797.3" font-size="8.4" fill="#111">HB OH HWHM</text>
<text x="224.0" y="696.0" font-size="10" fill="#111">1</text>
<text x="158.3" y="598.6" font-size="10" fill="#111">2</text>
<text x="46.4" y="626.6" font-size="10" fill="#111">3</text>
<text x="46.7" y="758.9" font-size="10" fill="#111">4</text>
<text x="161.3" y="779.6" font-size="10" fill="#111">5</text>
<circle cx="387" cy="684.3" r="110" fill="none" stroke="#222" stroke-width="1.1"/>
<line x1="387" y1="684.3" x2="497.0" y2="684.3" stroke="#5a5a5a" stroke-width="0.85"/>
<line x1="387" y1="684.3" x2="421.0" y2="579.7" stroke="#5a5a5a" stroke-width="0.85"/>
<line x1="387" y1="684.3" x2="298.0" y2="619.6" stroke="#5a5a5a" stroke-width="0.85"/>
<line x1="387" y1="684.3" x2="298.0" y2="749.0" stroke="#5a5a5a" stroke-width="0.85"/>
<line x1="387" y1="684.3" x2="421.0" y2="788.9" stroke="#5a5a5a" stroke-width="0.85"/>
<clipPath id="rp2"><polygon points="476.6,684.3 396.5,655.0 332.4,644.7 316.3,735.7 418.3,780.7"/></clipPath>
<polygon points="476.6,684.3 396.5,655.0 332.4,644.7 316.3,735.7 418.3,780.7" fill="#e6e66c" stroke="#a8a838" stroke-width="1"/>
<g clip-path="url(#rp2)">
<line x1="387" y1="684.3" x2="497.0" y2="684.3" stroke="#6e6e1e" stroke-width="1"/>
<line x1="387" y1="684.3" x2="421.0" y2="579.7" stroke="#6e6e1e" stroke-width="1"/>
<line x1="387" y1="684.3" x2="298.0" y2="619.6" stroke="#6e6e1e" stroke-width="1"/>
<line x1="387" y1="684.3" x2="298.0" y2="749.0" stroke="#6e6e1e" stroke-width="1"/>
<line x1="387" y1="684.3" x2="421.0" y2="788.9" stroke="#6e6e1e" stroke-width="1"/>
</g>
<circle cx="476.6" cy="684.3" r="2.3" fill="#8a8a30"/>
<circle cx="396.5" cy="655.0" r="2.3" fill="#8a8a30"/>
<circle cx="332.4" cy="644.7" r="2.3" fill="#8a8a30"/>
<circle cx="316.3" cy="735.7" r="2.3" fill="#8a8a30"/>
<circle cx="418.3" cy="780.7" r="2.3" fill="#8a8a30"/>
<text x="261" y="580.2" font-size="9.6" fill="#111">(d) TIP4P/Ew</text>
<text x="421.6" y="579.6" font-size="8.4" fill="#111">Free OH FWHM</text>
<text transform="translate(509.3,684.3) rotate(90)" font-size="8.4" text-anchor="middle" fill="#111">Surface</text>
<text transform="translate(500.5,684.3) rotate(90)" font-size="8.4" text-anchor="middle" fill="#111">Tension</text>
<text x="263.0" y="606.4" font-size="8.4" fill="#111">Band Area</text>
<text x="263.0" y="614.7" font-size="8.4" fill="#111">Ratio</text>
<text x="263.0" y="623.3" font-size="8.4" fill="#111">Free/HB</text>
<text x="266.4" y="753.2" font-size="8.4" fill="#111">HB OH</text>
<text x="266.4" y="761.2" font-size="8.4" fill="#111">Peak</text>
<text x="421.8" y="797.3" font-size="8.4" fill="#111">HB OH HWHM</text>
<circle cx="126.2" cy="913.3" r="109.8" fill="none" stroke="#222" stroke-width="1.1"/>
<line x1="126.2" y1="913.3" x2="236.0" y2="913.3" stroke="#5a5a5a" stroke-width="0.85"/>
<line x1="126.2" y1="913.3" x2="160.1" y2="808.9" stroke="#5a5a5a" stroke-width="0.85"/>
<line x1="126.2" y1="913.3" x2="37.4" y2="848.8" stroke="#5a5a5a" stroke-width="0.85"/>
<line x1="126.2" y1="913.3" x2="37.4" y2="977.8" stroke="#5a5a5a" stroke-width="0.85"/>
<line x1="126.2" y1="913.3" x2="160.1" y2="1017.7" stroke="#5a5a5a" stroke-width="0.85"/>
<clipPath id="rp3"><polygon points="229.4,913.3 129.8,902.2 72.5,874.3 59.6,961.7 151.8,992.0"/></clipPath>
<polygon points="229.4,913.3 129.8,902.2 72.5,874.3 59.6,961.7 151.8,992.0" fill="#e8b2b4" stroke="#cc5260" stroke-width="1"/>
<g clip-path="url(#rp3)">
<line x1="126.2" y1="913.3" x2="236.0" y2="913.3" stroke="#7e3e46" stroke-width="1"/>
<line x1="126.2" y1="913.3" x2="160.1" y2="808.9" stroke="#7e3e46" stroke-width="1"/>
<line x1="126.2" y1="913.3" x2="37.4" y2="848.8" stroke="#7e3e46" stroke-width="1"/>
<line x1="126.2" y1="913.3" x2="37.4" y2="977.8" stroke="#7e3e46" stroke-width="1"/>
<line x1="126.2" y1="913.3" x2="160.1" y2="1017.7" stroke="#7e3e46" stroke-width="1"/>
</g>
<circle cx="229.4" cy="913.3" r="2.3" fill="#c02a3a"/>
<circle cx="129.8" cy="902.2" r="2.3" fill="#c02a3a"/>
<circle cx="72.5" cy="874.3" r="2.3" fill="#c02a3a"/>
<circle cx="59.6" cy="961.7" r="2.3" fill="#c02a3a"/>
<circle cx="151.8" cy="992.0" r="2.3" fill="#c02a3a"/>
<text x="-0.4" y="808.2" font-size="9.6" fill="#111">(e) TIP4P/2005</text>
<text x="160.8" y="808.6" font-size="8.4" fill="#111">Free OH FWHM</text>
<text transform="translate(248.5,913.3) rotate(90)" font-size="8.4" text-anchor="middle" fill="#111">Surface</text>
<text transform="translate(239.7,913.3) rotate(90)" font-size="8.4" text-anchor="middle" fill="#111">Tension</text>
<text x="2.2" y="835.4" font-size="8.4" fill="#111">Band Area</text>
<text x="2.2" y="843.7" font-size="8.4" fill="#111">Ratio</text>
<text x="2.2" y="852.3" font-size="8.4" fill="#111">Free/HB</text>
<text x="5.6" y="982.2" font-size="8.4" fill="#111">HB OH</text>
<text x="5.6" y="990.2" font-size="8.4" fill="#111">Peak</text>
<text x="161.0" y="1026.3" font-size="8.4" fill="#111">HB OH HWHM</text>
<circle cx="387.1" cy="913.3" r="109.8" fill="none" stroke="#222" stroke-width="1.1"/>
<line x1="387.1" y1="913.3" x2="496.9" y2="913.3" stroke="#5a5a5a" stroke-width="0.85"/>
<line x1="387.1" y1="913.3" x2="421.0" y2="808.9" stroke="#5a5a5a" stroke-width="0.85"/>
<line x1="387.1" y1="913.3" x2="298.3" y2="848.8" stroke="#5a5a5a" stroke-width="0.85"/>
<line x1="387.1" y1="913.3" x2="298.3" y2="977.8" stroke="#5a5a5a" stroke-width="0.85"/>
<line x1="387.1" y1="913.3" x2="421.0" y2="1017.7" stroke="#5a5a5a" stroke-width="0.85"/>
<clipPath id="rp4"><polygon points="464.5,913.3 402.9,864.7 309.6,857.0 339.1,948.2 407.6,976.5"/></clipPath>
<polygon points="464.5,913.3 402.9,864.7 309.6,857.0 339.1,948.2 407.6,976.5" fill="#aab0dc" stroke="#5862a8" stroke-width="1"/>
<g clip-path="url(#rp4)">
<line x1="387.1" y1="913.3" x2="496.9" y2="913.3" stroke="#3e4680" stroke-width="1"/>
<line x1="387.1" y1="913.3" x2="421.0" y2="808.9" stroke="#3e4680" stroke-width="1"/>
<line x1="387.1" y1="913.3" x2="298.3" y2="848.8" stroke="#3e4680" stroke-width="1"/>
<line x1="387.1" y1="913.3" x2="298.3" y2="977.8" stroke="#3e4680" stroke-width="1"/>
<line x1="387.1" y1="913.3" x2="421.0" y2="1017.7" stroke="#3e4680" stroke-width="1"/>
</g>
<circle cx="464.5" cy="913.3" r="2.3" fill="#2c3c88"/>
<circle cx="402.9" cy="864.7" r="2.3" fill="#2c3c88"/>
<circle cx="309.6" cy="857.0" r="2.3" fill="#2c3c88"/>
<circle cx="339.1" cy="948.2" r="2.3" fill="#2c3c88"/>
<circle cx="407.6" cy="976.5" r="2.3" fill="#2c3c88"/>
<text x="261" y="808.3" font-size="9.6" fill="#111">(f) TIP4P/Ice</text>
<text x="421.7" y="808.6" font-size="8.4" fill="#111">Free OH FWHM</text>
<text transform="translate(509.4,913.3) rotate(90)" font-size="8.4" text-anchor="middle" fill="#111">Surface</text>
<text transform="translate(500.6,913.3) rotate(90)" font-size="8.4" text-anchor="middle" fill="#111">Tension</text>
<text x="263.1" y="835.4" font-size="8.4" fill="#111">Band Area</text>
<text x="263.1" y="843.7" font-size="8.4" fill="#111">Ratio</text>
<text x="263.1" y="852.3" font-size="8.4" fill="#111">Free/HB</text>
<text x="266.5" y="982.2" font-size="8.4" fill="#111">HB OH</text>
<text x="266.5" y="990.2" font-size="8.4" fill="#111">Peak</text>
<text x="421.9" y="1026.3" font-size="8.4" fill="#111">HB OH HWHM</text>
</svg></body></html>
